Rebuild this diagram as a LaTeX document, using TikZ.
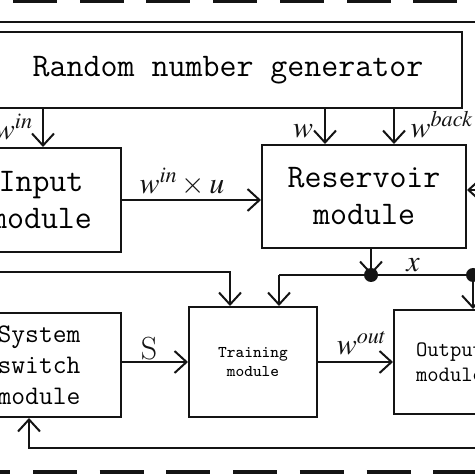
\documentclass[tikz,border=0pt]{standalone}
\usepackage{mathptmx}
\usetikzlibrary{arrows.meta, positioning, calc}
\definecolor{ink}{HTML}{141414}
\tikzset{
  box/.style={draw=ink, line width=1pt, fill=white, align=center,
              font=\ttfamily\fontsize{16.5}{18.5}\selectfont, inner sep=0pt},
  flow/.style={-{Straight Barb[length=6pt,width=11pt]}, line width=1pt, color=ink},
  wire/.style={line width=1pt, color=ink},
  lbl/.style={font=\fontsize{15}{18}\selectfont, color=ink, inner sep=1pt},
  dot/.style={circle, fill=ink, inner sep=0pt, minimum size=7pt},
  band/.style={line width=2pt, color=ink, dash pattern=on 22pt off 11.35pt},
}
\begin{document}
\begin{tikzpicture}[x=0.5pt,y=-0.5pt]
\useasboundingbox (0,0) rectangle (474,474);
% cut edges of the page
\draw[band] (13,1) -- (480,1);
\draw[band, line width=3pt] (-33.7,473) -- (480,473);
\draw[ink, line width=0.75pt] (-5,22) -- (480,22);
% modules
\node[box, minimum width=234pt, minimum height=38pt] (rng) at (228,70) {Random number generator};
\node[box, minimum width=80pt, minimum height=52pt] (inp) at (41,200) {Input\\module};
\node[box, minimum width=102pt, minimum height=51.5pt] (res) at (364,196.5) {Reservoir\\module};
\node[box, minimum width=82pt, minimum height=52pt, font=\ttfamily\fontsize{13.4}{15.5}\selectfont] (sys) at (39,365) {System\\switch\\module};
\node[box, minimum width=64pt, minimum height=55pt, font=\ttfamily\fontsize{8.2}{9.5}\selectfont] (trn) at (253,362) {Training\\module};
\node[box, minimum width=56pt, minimum height=52pt, font=\ttfamily\fontsize{11}{12.5}\selectfont] (out) at (450,362) {Output\\module};
% taps
\coordinate (wtap) at (325,0);
\coordinate (btap) at (394,0);
\coordinate (xtap) at (371,0);
\coordinate (ltap) at (279,0);
\coordinate (ktap) at (230,0);
\coordinate (rtap) at (473,0);
\coordinate (ftap) at (29,0);
\coordinate (itap) at (43,0);
\coordinate (bus) at (0,275);
\coordinate (lin) at (-5,272);
\coordinate (rin) at (480,190);
\coordinate (fin) at (480,448);
\node[dot] (dxa) at (bus -| xtap) {};
\node[dot] (dxb) at (bus -| rtap) {};
% weights
\draw[flow] (rng.south -| itap) -- (inp.north -| itap);
\draw[flow] (rng.south -| wtap) -- (res.north -| wtap);
\draw[flow] (rng.south -| btap) -- (res.north -| btap);
\draw[flow] (inp.east) -- (inp.east -| res.west);
\draw[flow] (rin) -- (rin -| res.east);
% state bus
\draw[flow] (res.south -| xtap) -- (dxa.center);
\draw[wire] (bus -| ltap) -- (dxb.center) -- (bus -| rin);
\draw[flow] (bus -| ltap) -- (trn.north -| ltap);
\draw[flow] (dxb.center) -- (out.north -| dxb);
\draw[flow] (lin) -| (trn.north -| ktap);
% training
\draw[flow] (sys.east |- trn.west) -- (trn.west);
\draw[flow] (trn.east) -- (trn.east -| out.west);
\draw[flow] (fin) -| (sys.south -| ftap);
% labels
\node[lbl] (lwin) at (14,127) {$w^{in}$};
\node[lbl] (lw) at (303,131) {$w$};
\node[lbl] (lwb) at (442,125) {$w^{back}$};
\node[lbl] (lwu) at (182,182) {$w^{in}\times u$};
\node[lbl] (lx) at (413,265) {$x$};
\node[lbl, font=\bfseries\fontsize{16}{18}\selectfont] (ls) at (149,349) {S};
\node[lbl] (lwo) at (362,343) {$w^{out}$};
\end{tikzpicture}
\end{document}
